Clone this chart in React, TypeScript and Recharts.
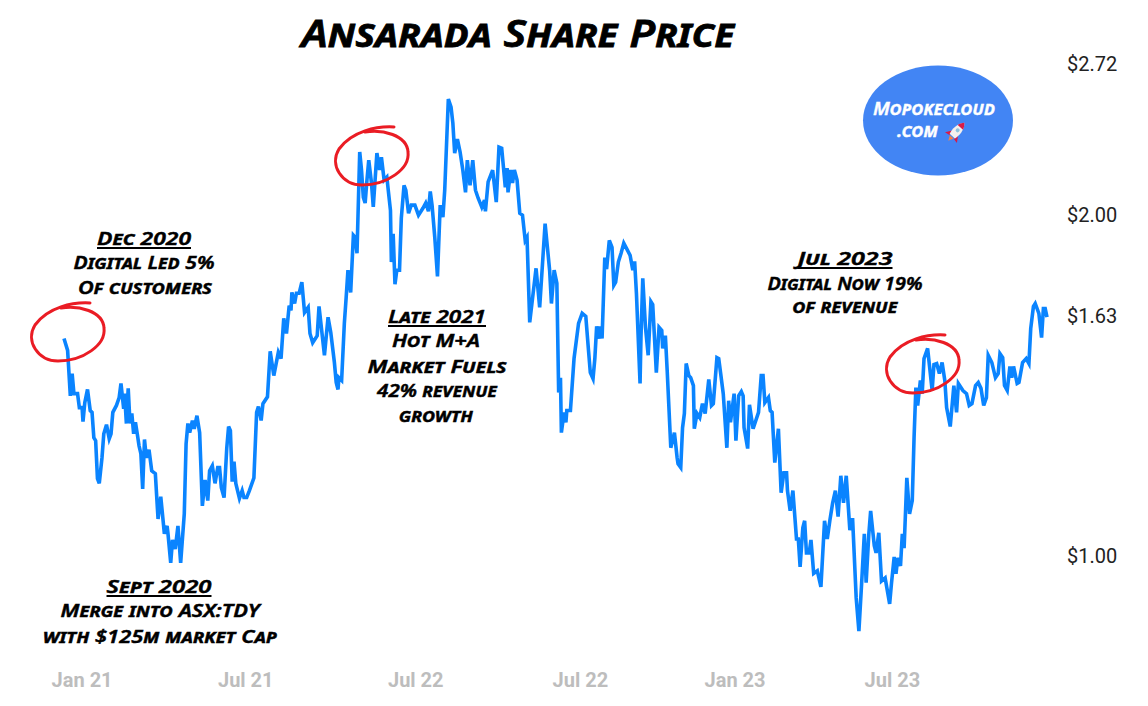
import { LineChart, Line, XAxis, YAxis } from 'recharts';

const days = [
  0, 4, 7, 9, 11, 15, 17, 20, 21, 23, 26, 29, 31, 33, 35, 37, 39, 42, 44, 47, 50, 52, 54, 58, 61, 63, 66, 67, 69, 71,
  73, 75, 77, 79, 81, 83, 85, 87, 89, 91, 94, 97, 101, 104, 107, 111, 114, 115, 118, 120, 123, 126, 129, 133, 135, 137, 139, 142, 144, 147,
  150, 153, 156, 159, 161, 164, 167, 170, 172, 174, 177, 180, 182, 184, 186, 188, 190, 194, 197, 199, 202, 205, 210, 213, 215, 218, 220, 225, 228, 232,
  237, 240, 243, 246, 249, 251, 252, 255, 257, 260, 263, 266, 270, 272, 275, 280, 282, 288, 292, 295, 299, 301, 303, 304, 307, 310, 312, 314, 317, 320,
  322, 324, 327, 329, 331, 333, 335, 337, 340, 342, 346, 349, 351, 354, 357, 361, 362, 364, 366, 368, 371, 373, 376, 378, 381, 384, 388, 392, 397, 400,
  403, 405, 407, 410, 413, 416, 419, 421, 425, 428, 430, 432, 435, 438, 441, 444, 446, 449, 452, 455, 458, 462, 465, 466, 469, 474, 478, 481, 484, 488,
  490, 491, 494, 496, 498, 501, 504, 507, 510, 512, 515, 522, 526, 532, 537, 539, 542, 545, 547, 549, 550, 553, 555, 556, 560, 564, 569, 573, 577, 580,
  582, 585, 587, 589, 592, 593, 595, 598, 600, 603, 606, 608, 610, 613, 616, 619, 622, 626, 629, 631, 633, 637, 638, 640, 643, 646, 649, 651, 654, 655,
  658, 661, 662, 665, 667, 671, 675, 678, 679, 682, 684, 686, 688, 691, 693, 696, 697, 700, 703, 706, 709, 713, 716, 718, 722, 724, 726, 729, 733, 735,
  737, 741, 743, 746, 749, 751, 752, 756, 758, 762, 768, 771, 773, 775, 779, 781, 783, 786, 790, 793, 796, 799, 800, 803, 806, 810, 812, 814, 817, 819,
  821, 824, 826, 829, 833, 837, 841, 844, 847, 850, 853, 856, 859, 862, 865, 869, 872, 876, 879, 882, 885, 887, 890, 892, 896, 898, 901, 904, 908, 913,
  915, 918, 920, 922, 925, 927, 929, 932, 935, 938, 940, 942, 944, 947, 949, 951, 955, 960, 962, 965, 968, 971, 974, 976, 980, 984, 987, 989, 994, 998,
  1001, 1004, 1008, 1011, 1014, 1017, 1020, 1022, 1026, 1030, 1033, 1035, 1038, 1040, 1043, 1046, 1048, 1050, 1054, 1056, 1060, 1064, 1067, 1069, 1072, 1074, 1078, 1081, 1083, 1085,
  1087,
];

const prices = [
  1.556, 1.519, 1.385, 1.449, 1.391, 1.391, 1.352, 1.352, 1.314, 1.366, 1.403, 1.344, 1.339, 1.272, 1.264, 1.17, 1.159, 1.221, 1.282, 1.306, 1.269, 1.282, 1.339, 1.358, 1.38, 1.42, 1.349, 1.391, 1.309, 1.406,
  1.309, 1.336, 1.282, 1.312, 1.282, 1.251, 1.231, 1.146, 1.267, 1.221, 1.241, 1.189, 1.182, 1.078, 1.128, 1.046, 1.063, 1.046, 0.986, 1.033, 1.014, 1.063, 0.986, 1.089, 1.256, 1.309, 1.285, 1.317, 1.295, 1.33,
  1.285, 1.107, 1.167, 1.119, 1.189, 1.201, 1.159, 1.197, 1.197, 1.149, 1.126, 1.246, 1.301, 1.29, 1.163, 1.211, 1.159, 1.124, 1.142, 1.126, 1.126, 1.142, 1.172, 1.339, 1.355, 1.317, 1.363, 1.382, 1.516, 1.443,
  1.513, 1.494, 1.621, 1.572, 1.664, 1.648, 1.709, 1.671, 1.706, 1.706, 1.745, 1.641, 1.658, 1.572, 1.543, 1.565, 1.661, 1.504, 1.625, 1.575, 1.482, 1.423, 1.403, 1.437, 1.429, 1.605, 1.691, 1.788, 1.709, 1.92,
  1.912, 1.851, 2.274, 2.192, 2.074, 2.05, 2.148, 2.237, 2.135, 2.034, 2.269, 2.192, 2.25, 2.148, 2.161, 2.02, 1.818, 1.925, 1.738, 1.788, 1.788, 1.988, 2.125, 2.104, 2.008, 2.041, 2.041, 2.0, 2.029, 2.05,
  2.016, 2.099, 2.041, 1.912, 1.766, 2.041, 1.992, 2.104, 2.533, 2.492, 2.412, 2.269, 2.335, 2.274, 2.192, 2.095, 2.237, 2.125, 2.237, 2.104, 2.07, 2.033, 2.062, 2.016, 2.14, 2.192, 2.054, 2.297, 2.292, 2.116,
  2.201, 2.095, 2.192, 2.135, 2.192, 2.148, 2.008, 2.0, 1.9, 1.912, 1.608, 1.795, 1.658, 1.966, 1.788, 1.671, 1.788, 1.741, 1.394, 1.437, 1.285, 1.339, 1.312, 1.344, 1.344, 1.494, 1.605, 1.638, 1.628, 1.519,
  1.452, 1.434, 1.494, 1.595, 1.556, 1.595, 1.556, 1.835, 1.792, 1.9, 1.873, 1.734, 1.745, 1.818, 1.851, 1.889, 1.869, 1.843, 1.788, 1.821, 1.706, 1.42, 1.559, 1.759, 1.592, 1.504, 1.677, 1.667, 1.504, 1.452,
  1.592, 1.582, 1.525, 1.565, 1.458, 1.246, 1.285, 1.221, 1.206, 1.197, 1.298, 1.336, 1.479, 1.443, 1.437, 1.414, 1.295, 1.336, 1.325, 1.363, 1.336, 1.432, 1.358, 1.363, 1.497, 1.494, 1.452, 1.391, 1.246, 1.371,
  1.312, 1.391, 1.264, 1.385, 1.397, 1.385, 1.298, 1.244, 1.36, 1.295, 1.339, 1.443, 1.443, 1.366, 1.38, 1.344, 1.339, 1.209, 1.295, 1.137, 1.184, 1.184, 1.142, 1.096, 1.142, 1.035, 1.035, 0.978, 1.059, 1.074,
  1.006, 1.006, 1.033, 0.965, 0.97, 0.939, 1.074, 1.035, 1.076, 1.114, 1.142, 1.083, 1.177, 1.114, 1.177, 1.054, 1.08, 0.918, 0.858, 0.945, 1.046, 0.947, 1.046, 1.096, 1.021, 1.006, 1.048, 0.95, 0.956, 0.907,
  0.945, 0.998, 0.964, 0.996, 0.98, 1.046, 1.016, 1.172, 1.089, 1.119, 1.272, 1.408, 1.358, 1.429, 1.391, 1.494, 1.525, 1.4, 1.476, 1.479, 1.449, 1.482, 1.429, 1.352, 1.301, 1.414, 1.339, 1.42, 1.4, 1.391,
  1.358, 1.363, 1.414, 1.423, 1.406, 1.358, 1.38, 1.504, 1.482, 1.437, 1.449, 1.509, 1.497, 1.414, 1.4, 1.47, 1.437, 1.47, 1.42, 1.423, 1.482, 1.494, 1.479, 1.588, 1.661, 1.671, 1.638, 1.559, 1.654, 1.654,
  1.625,
];

const priceTicks = [1, 1.63, 2, 2.72];
const dayTicks = [20, 201, 389, 571, 742, 916];
const dayTickLabels = ['Jan 21', 'Jul 21', 'Jul 22', 'Jul 22', 'Jan 23', 'Jul 23'];

const chartData = days.map((day, i) => ({ day, price: prices[i] }));

const markerFont = "'Noto Sans', sans-serif";

// x is the centre of the line, w its width in the picture
const notes = [
  { text: 'Dec 2020', x: 144, y: 245, w: 94, head: true },
  { text: 'Digital Led 5%', x: 144, y: 269, w: 141 },
  { text: 'Of customers', x: 145, y: 294, w: 134 },
  { text: 'Sept 2020', x: 159, y: 593, w: 105, head: true },
  { text: 'Merge into ASX:TDY', x: 160, y: 617, w: 199 },
  { text: 'with $125m market Cap', x: 160, y: 643, w: 234 },
  { text: 'Late 2021', x: 437, y: 323, w: 98, head: true },
  { text: 'Hot M+A', x: 436, y: 347, w: 88 },
  { text: 'Market Fuels', x: 437, y: 373, w: 139 },
  { text: '42% revenue', x: 437, y: 397, w: 120 },
  { text: 'growth', x: 436, y: 422, w: 74 },
  { text: 'Jul 2023', x: 845, y: 265, w: 95, head: true },
  { text: 'Digital Now 19%', x: 845, y: 290, w: 155 },
  { text: 'of revenue', x: 845, y: 313, w: 105 },
];

const circles = [
  { x: 28, y: 303 },
  { x: 332, y: 127 },
  { x: 883, y: 335 },
];

function Overlay() {
  return (
    <svg width={1148} height={706} style={{ position: 'absolute', left: 0, top: 0, pointerEvents: 'none' }}>
      <text
        x={518}
        y={47}
        textAnchor="middle"
        textLength={433}
        lengthAdjust="spacingAndGlyphs"
        fontFamily={markerFont}
        fontSize={38}
        fontWeight={600}
        fontStyle="italic"
        fontVariant="small-caps"
        stroke="#000"
        strokeWidth={0.8}
      >
        Ansarada Share Price
      </text>
      {notes.map((n) => (
        <g key={n.text}>
          <text
            x={n.x}
            y={n.y}
            textAnchor="middle"
            textLength={n.w}
            lengthAdjust="spacingAndGlyphs"
            fontFamily={markerFont}
            fontSize={18}
            fontWeight={600}
            fontStyle="italic"
            fontVariant="small-caps"
            stroke="#000"
            strokeWidth={0.5}
          >
            {n.text}
          </text>
          {n.head && <line x1={n.x - n.w / 2} x2={n.x + n.w / 2} y1={n.y + 3} y2={n.y + 3} stroke="#000" strokeWidth={2} />}
        </g>
      ))}
      {circles.map((c) => (
        <path
          key={c.x}
          transform={`translate(${c.x} ${c.y})`}
          d="M62,0 C45,-1 20,4 7,22 C-3,38 10,58 30,58 C55,58 78,42 76,25 C75,8 50,2 33,5"
          fill="none"
          stroke="#ea1c24"
          strokeWidth={3}
          strokeLinecap="round"
        />
      ))}
      <ellipse cx={938} cy={120.5} rx={75} ry={55} fill="#4285f4" />
      <text
        x={934}
        y={115}
        textAnchor="middle"
        textLength={122}
        lengthAdjust="spacingAndGlyphs"
        fill="#fff"
        stroke="#fff"
        strokeWidth={0.4}
        fontFamily={markerFont}
        fontSize={18}
        fontWeight={600}
        fontStyle="italic"
        fontVariant="small-caps"
      >
        Mopokecloud
      </text>
      <text
        x={917.5}
        y={137}
        textAnchor="middle"
        textLength={41}
        lengthAdjust="spacingAndGlyphs"
        fill="#fff"
        stroke="#fff"
        strokeWidth={0.4}
        fontFamily={markerFont}
        fontSize={18}
        fontWeight={600}
        fontStyle="italic"
        fontVariant="small-caps"
      >
        .com
      </text>
      <g transform="translate(957 131) rotate(42)">
        <path d="M-4,3 L-8,9 L-3,8 Z M4,3 L8,9 L3,8 Z" fill="#d81b47" />
        <path d="M0,-11 C5,-6 5,2 3.5,7 L-3.5,7 C-5,2 -5,-6 0,-11 Z" fill="#f4f0ee" />
        <path d="M0,-11 C2,-9 3,-7 3.6,-5 L-3.6,-5 C-3,-7 -2,-9 0,-11 Z" fill="#d81b47" />
        <circle cx={0} cy={-1} r={2} fill="#8ec3dc" />
        <path d="M-2.5,8 L2.5,8 L0,13 Z" fill="#f0814a" />
      </g>
    </svg>
  );
}

export default function App() {
  return (
    <div style={{ position: 'absolute', left: 0, top: 0, width: 1148, height: 706, background: '#fff' }}>
      <LineChart width={1148} height={706} data={chartData} margin={{ top: 64, right: 0, left: 64, bottom: 0 }}>
        <XAxis
          dataKey="day"
          type="number"
          domain={[0, 1087]}
          ticks={dayTicks}
          interval={0}
          tickFormatter={(d: number) => dayTickLabels[dayTicks.indexOf(d)]}
          axisLine={false}
          tickLine={false}
          tickMargin={26}
          height={65}
          tick={{ fill: '#bdbdbd', fontFamily: 'Roboto', fontSize: 20, fontWeight: 700 }}
        />
        <YAxis
          orientation="right"
          type="number"
          scale="log"
          domain={[0.841, 2.72]}
          allowDataOverflow
          ticks={priceTicks}
          interval={0}
          tickFormatter={(v: number) => `$${v.toFixed(2)}`}
          axisLine={false}
          tickLine={false}
          tickMargin={14}
          width={101}
          tick={{ fill: '#222', fontFamily: 'Roboto', fontSize: 20 }}
        />
        <Line type="linear" dataKey="price" stroke="#0a84ff" strokeWidth={3.6} dot={false} isAnimationActive={false} />
      </LineChart>
      <Overlay />
    </div>
  );
}
